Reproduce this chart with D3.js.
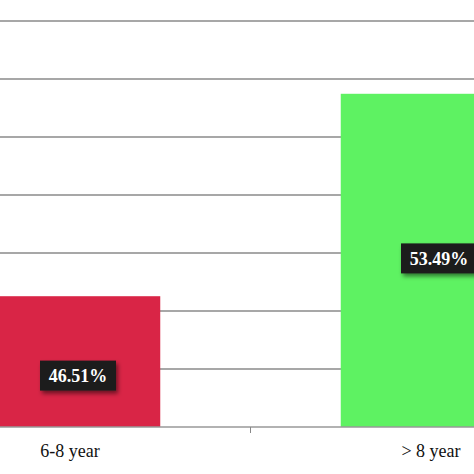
<!DOCTYPE html><html><head><script src="https://cdn.jsdelivr.net/npm/d3@7"></script>
<style>body{margin:0;background:#fff}</style></head><body><svg id="c" width="474" height="474"></svg>
<script>
const categories=["6-8 year","> 8 year"];
const values=[46.51,53.49];
const labels=["46.51%","53.49%"];
const yTicks=[42,44,46,48,50,52,54,56];
const colors=["#d92546","#5ef262"];
const svg=d3.select("#c");
const x=d3.scaleBand().domain(categories).range([-110.5,611.5]).paddingInner(0.5).paddingOuter(0.25);
const y=d3.scaleLinear().domain([42,56]).range([427,21]);
const defs=svg.append("defs");
const f=defs.append("filter").attr("id","sh").attr("x","-20%").attr("y","-20%").attr("width","150%").attr("height","160%");
f.append("feDropShadow").attr("dx",2).attr("dy",3).attr("stdDeviation",2).attr("flood-color","#000").attr("flood-opacity",0.5);
svg.selectAll(".g").data(yTicks.slice(1)).join("line").attr("x1",0).attr("x2",474)
 .attr("y1",d=>y(d)).attr("y2",d=>y(d)).attr("stroke","#8a8a8a").attr("stroke-width",1.3);
svg.selectAll(".b").data(values).join("rect").attr("x",(d,i)=>x(categories[i])).attr("width",x.bandwidth())
 .attr("y",d=>y(d)).attr("height",d=>y(42)-y(d)).attr("fill",(d,i)=>colors[i]);
svg.append("line").attr("x1",0).attr("x2",474).attr("y1",y(42)).attr("y2",y(42)).attr("stroke","#999").attr("stroke-width",1.3);
const mid=(x(categories[0])+x.bandwidth()+x(categories[1]))/2;
svg.append("line").attr("x1",mid).attr("x2",mid).attr("y1",y(42)).attr("y2",y(42)+6).attr("stroke","#888");
svg.selectAll(".cl").data(categories).join("text").attr("x",d=>x(d)+x.bandwidth()/2).attr("y",457)
 .attr("text-anchor","middle").attr("font-family","Liberation Serif").attr("font-size",18).attr("fill","#111").text(d=>d);
const lg=svg.selectAll(".lb").data(values).join("g")
 .attr("transform",(d,i)=>`translate(${x(categories[i])+x.bandwidth()/2+8},${(y(d)+y(42))/2+(i==0?14:-2)})`);
lg.append("rect").attr("x",-38).attr("y",-15).attr("width",76).attr("height",30).attr("fill","#1e1e1e").attr("filter","url(#sh)");
lg.append("text").attr("text-anchor","middle").attr("dy","0.35em").attr("font-family","Liberation Serif")
 .attr("font-weight","bold").attr("font-size",18).attr("fill","#fff").text((d,i)=>labels[i]);
</script></body></html>
